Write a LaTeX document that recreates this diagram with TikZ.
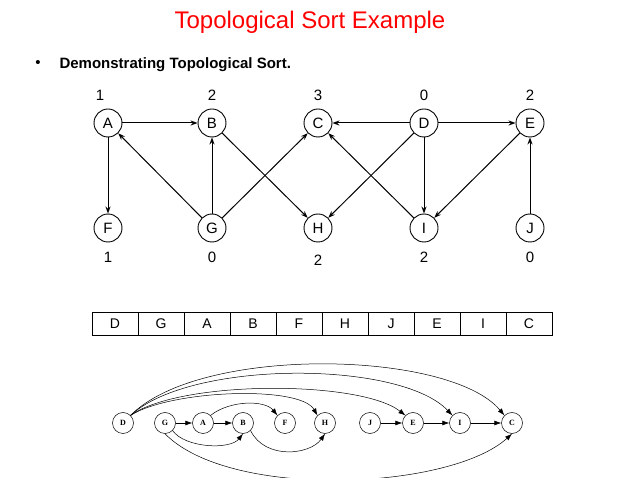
\documentclass[tikz,border=0pt]{standalone}
\usepackage{fontspec}
\setmainfont{Liberation Sans}
\newfontfamily\serifb{Liberation Serif}
\usetikzlibrary{arrows.meta}
\begin{document}
\begin{tikzpicture}[x=1pt,y=-1pt,
  vtx/.style={draw,circle,line width=0.9pt,minimum size=28pt,inner sep=0pt,font=\fontsize{15}{15}\selectfont},
  lbl/.style={font=\fontsize{15}{15}\selectfont},
  ed/.style={-{Stealth[length=7pt,width=5pt]},line width=1pt},
  cell/.style={draw,minimum width=46pt,minimum height=23pt,inner sep=0pt,font=\fontsize{14}{14}\selectfont},
  sv/.style={draw,circle,line width=0.5pt,minimum size=21pt,inner sep=0pt,font=\serifb\bfseries\fontsize{8}{8}\selectfont},
  se/.style={-{Latex[length=7pt,width=5pt]},line width=0.5pt}]
\useasboundingbox (0,0) rectangle (638,478);
\node[red,font=\fontsize{24}{24}\selectfont] (title) at (310,22) {Topological Sort Example};
\node[font=\fontsize{15}{15}\selectfont] (bul) at (38,64) {•};
\node[anchor=west,font=\bfseries\fontsize{15}{15}\selectfont] (sub) at (56,65) {Demonstrating Topological Sort.};
\foreach \n/\x/\lx/\t in {A/108/100/1,B/212/212/2,C/318/318/3,D/424/424/0,E/530/530/2}{
  \node[vtx] (\n) at (\x,123) {\n};
  \node[lbl] (l\n) at (\lx,95) {\t};}
\foreach \n/\x/\t/\yy in {F/108/1/257,G/212/0/257,H/318/2/260,I/424/2/257,J/530/0/257}{
  \node[vtx] (\n) at (\x,228) {\n};
  \node[lbl] (l\n) at (\x,\yy) {\t};}
\draw[ed] (A)--(B); \draw[ed] (A)--(F); \draw[ed] (G)--(A); \draw[ed] (G)--(B);
\draw[ed] (G)--(C); \draw[ed] (B)--(H); \draw[ed] (D)--(C); \draw[ed] (D)--(E);
\draw[ed] (D)--(H); \draw[ed] (D)--(I); \draw[ed] (I)--(C); \draw[ed] (E)--(I);
\draw[ed] (J)--(E);
\foreach \t [count=\i] in {D,G,A,B,F,H,J,E,I,C}{
  \node[cell] (c\i) at (92+46*\i-23,323.5) {\t};}
\foreach \n/\x in {D/123,G/165,A/203,B/243,F/285,H/325,J/370,E/413,I/460,C/512}{
  \node[sv] (s\n) at (\x,423) {\n};}
\draw[se] (sG)--(sA); \draw[se] (sA)--(sB); \draw[se] (sJ)--(sE);
\draw[se] (sE)--(sI); \draw[se] (sI)--(sC);
\draw[se] (sA.north east) .. controls (230,400) and (265,400) .. (sF.north west);
\draw[se] (sD.north east) .. controls (170,390) and (300,385) .. (sH.north west);
\draw[se] (sD.north east) .. controls (180,380) and (360,380) .. (sE.north west);
\draw[se] (sD.north east) .. controls (190,360) and (400,360) .. (sI.north west);
\draw[se] (sD.north east) .. controls (200,345) and (450,350) .. (sC.north west);
\draw[se] (sG.south east) .. controls (185,448) and (230,450) .. (sB.south);
\draw[se] (sB.south east) .. controls (265,460) and (310,455) .. (sH.south);
\draw[se] (sG.south) .. controls (230,500) and (450,490) .. (sC.south);
\end{tikzpicture}
\end{document}
